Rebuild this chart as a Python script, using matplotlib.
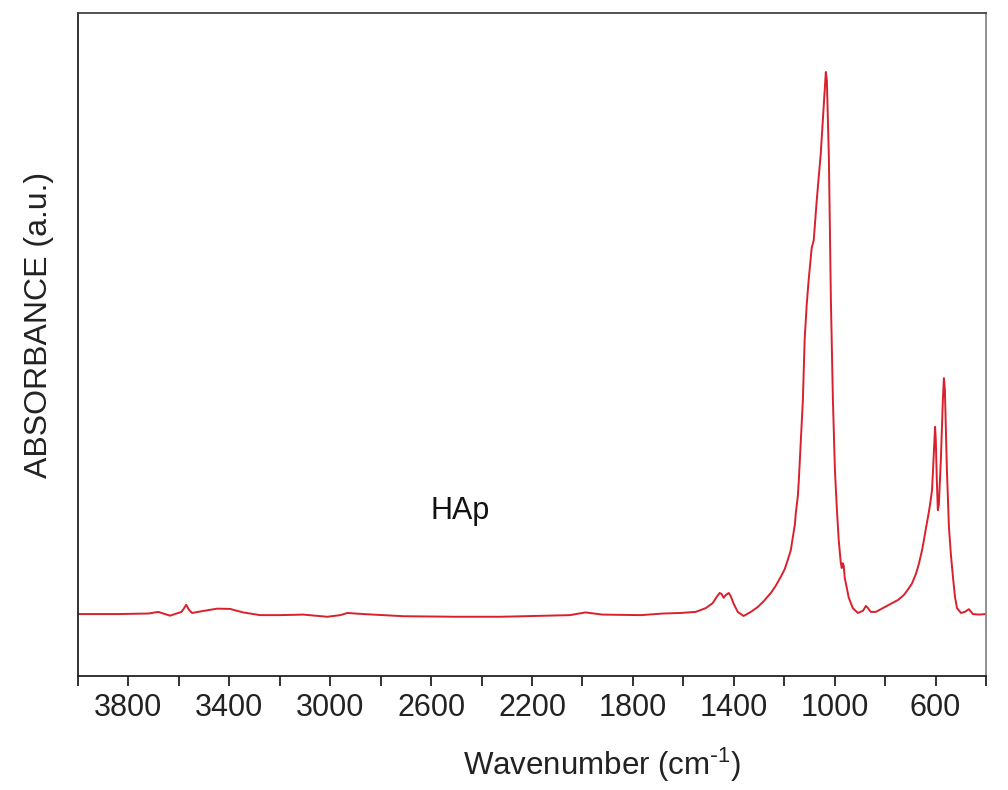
import matplotlib
matplotlib.use("Agg")
import matplotlib.pyplot as plt
from matplotlib.ticker import MultipleLocator

plt.rcParams['font.family'] = ['Liberation Sans', 'DejaVu Sans']

# Wavenumber (cm^-1) and absorbance (a.u., baseline 0, main peak 1.0)
wavenumber = [4000, 3840, 3720, 3682, 3635, 3590, 3582, 3571, 3560, 3548, 3500, 3448,
              3397, 3345, 3278, 3200, 3107, 3012, 2960, 2932, 2869, 2790, 2710, 2500,
              2325, 2150, 2050, 1988, 1920, 1769, 1680, 1611, 1551, 1511, 1484, 1468,
              1456, 1448, 1440, 1432, 1420, 1412, 1400, 1384, 1361, 1333, 1305, 1281,
              1253, 1234, 1214, 1198, 1186, 1174, 1166, 1158, 1154, 1146, 1142, 1134,
              1126, 1119, 1111, 1103, 1095, 1091, 1083, 1071, 1055, 1043, 1035, 1031,
              1023, 1019, 1015, 1007, 999, 991, 984, 976, 972, 968, 964, 960, 952, 944,
              928, 908, 888, 876, 868, 857, 837, 817, 777, 749, 726, 710, 694, 678, 666,
              654, 646, 638, 630, 622, 614, 610, 602, 599, 595, 591, 587, 579, 571, 567,
              563, 559, 555, 547, 539, 531, 523, 515, 499, 484, 468, 452, 428, 400]
absorbance = [-0.002, -0.002, -0.001, 0.002, -0.005, 0.002, 0.007, 0.015, 0.006, 0.0,
              0.004, 0.008, 0.0075, 0.001, -0.004, -0.004, -0.003, -0.007, -0.004, 0.0,
              -0.002, -0.004, -0.006, -0.007, -0.007, -0.005, -0.004, 0.001, -0.003,
              -0.004, -0.001, 0.0, 0.002, 0.009, 0.018, 0.0295, 0.037, 0.035, 0.028,
              0.033, 0.037, 0.031, 0.0166, 0.0018, -0.0055, 0.0018, 0.011, 0.022, 0.037,
              0.050, 0.0665, 0.081, 0.098, 0.116, 0.140, 0.163, 0.185, 0.216, 0.246,
              0.320, 0.394, 0.505, 0.569, 0.616, 0.656, 0.675, 0.689, 0.763, 0.850,
              0.939, 1.0, 0.985, 0.843, 0.708, 0.579, 0.394, 0.264, 0.190, 0.135, 0.094,
              0.083, 0.092, 0.087, 0.065, 0.046, 0.028, 0.009, 0.0, 0.004, 0.013, 0.009,
              0.002, 0.002, 0.007, 0.017, 0.024, 0.033, 0.043, 0.054, 0.072, 0.091,
              0.115, 0.135, 0.157, 0.177, 0.200, 0.227, 0.264, 0.344, 0.320, 0.246,
              0.190, 0.200, 0.283, 0.394, 0.434, 0.412, 0.338, 0.264, 0.159, 0.107,
              0.0665, 0.030, 0.009, 0.0, 0.002, 0.007, -0.002, -0.003, -0.002]

xticks_major = [3800, 3400, 3000, 2600, 2200, 1800, 1400, 1000, 600]

fig = plt.figure(figsize=(10.08, 7.9), dpi=100)
ax = fig.add_axes([78/1008, 1-676/790, (986-78)/1008, (676-13)/790])

ax.plot(wavenumber, absorbance, color='#d9202c', lw=1.4, solid_joinstyle='round')
ax.set_xlim(4000, 400)
ax.set_ylim(-0.1165, 1.109)

ax.set_xticks(xticks_major)
ax.xaxis.set_minor_locator(MultipleLocator(200))
ax.tick_params(axis='x', which='both', direction='out', length=7, width=1.3,
               labelsize=22, pad=5, colors='#222222')
ax.tick_params(axis='y', left=False, labelleft=False)
for s in ax.spines.values():
    s.set_linewidth(1.3)
    s.set_color('#222222')
ax.spines['top'].set_color('#444444')
ax.spines['right'].set_color('#888888')

fig.text(602/1008, 1-765/790, 'Wavenumber (cm$^{\\mathregular{\\text{-}1}}$)', ha='center',
         va='center', fontsize=22.5, color='#222222')
fig.text(39/1008, 1-325/790, 'ABSORBANCE (a.u.)', ha='center', va='center',
         rotation=90, fontsize=23, color='#222222')
ax.text(2484, 0.189, 'HAp', ha='center', va='center', fontsize=22, color='#111111')

fig.savefig('out.png', dpi=100)
